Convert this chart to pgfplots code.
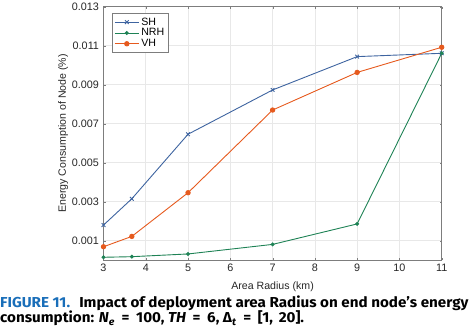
\documentclass[border=0pt]{standalone}
\usepackage{pgfplots}
\pgfplotsset{compat=1.18}
\usepackage{fontspec}
\setmainfont{Liberation Sans}
\newfontfamily\capfont{Fira Sans}
\definecolor{shc}{RGB}{62,100,160}
\definecolor{nrhc}{RGB}{30,130,85}
\definecolor{vhc}{RGB}{230,90,30}
\definecolor{capblue}{RGB}{25,110,185}
\definecolor{framec}{RGB}{125,125,125}
\definecolor{gridc}{RGB}{232,232,232}
\begin{document}
\begin{tikzpicture}
\useasboundingbox (0,0) rectangle (474pt,326pt);
\clip (0,0) rectangle (474pt,326pt);
\begin{axis}[
  at={(103.5pt,65.8pt)}, anchor=south west,
  scale only axis, width=338.2pt, height=253.5pt,
  xmin=3, xmax=11, ymin=0, ymax=0.013,
  xtick={3,4,...,11},
  ytick={0.001,0.003,0.005,0.007,0.009,0.011,0.013},
  scaled y ticks=false,
  yticklabel style={/pgf/number format/fixed,/pgf/number format/precision=3,/pgf/number format/fixed zerofill, xshift=-1pt},
  /pgf/number format/assume math mode=true,
  ticklabel style={font=\fontsize{10.8}{12}\selectfont, text=black!85},
  label style={font=\fontsize{10.6}{12}\selectfont, text=black!85},
  xlabel={Area Radius (km)},
  ylabel={Energy Consumption of Node (\%)},
  xlabel style={yshift=-4pt},
  ylabel style={yshift=-3pt},
  grid=major,
  major grid style={gridc, line width=0.6pt},
  axis line style={framec, line width=1pt},
  tick style={framec},
  major tick length=2pt,
  tick align=inside,
  legend style={at={(0.025,0.974)}, anchor=north west, draw=framec, line width=0.8pt,
    font=\fontsize{10.6}{12}\selectfont, row sep=-2pt, inner sep=2pt},
  legend cell align=left,
  legend image code/.code={\draw[#1] (0pt,0pt) -- (24pt,0pt); \draw[#1, only marks] plot coordinates {(12pt,0pt)};},
]
\addplot[shc, line width=0.9pt, mark=x, mark size=2.6pt] coordinates {
  (3,0.00180) (3.67,0.00315) (5,0.00646) (7,0.00873) (9,0.01044) (11,0.01061)};
\addlegendentry{SH}
\addplot[nrhc, line width=0.9pt, mark=*, mark size=1.5pt] coordinates {
  (3,0.00015) (3.67,0.00018) (5,0.00032) (7,0.00081) (9,0.00186) (11,0.01061)};
\addlegendentry{NRH}
\addplot[vhc, line width=0.9pt, mark=*, mark size=2.2pt] coordinates {
  (3,0.00069) (3.67,0.00122) (5,0.00346) (7,0.00770) (9,0.00963) (11,0.01092)};
\addlegendentry{VH}
\end{axis}
\node[anchor=base west, inner sep=0pt, font=\capfont\bfseries\fontsize{14.4}{16}\selectfont] at (0pt,18.5pt)
  {\scalebox{1.055}[1]{\textcolor{capblue}{FIGURE 11.}\hspace{0.6em}Impact of deployment area Radius on end node’s energy}};
\node[anchor=base west, inner sep=0pt, font=\capfont\bfseries\fontsize{14.4}{16}\selectfont] at (0pt,3pt)
  {\scalebox{1.055}[1]{consumption: \textit{N}\textsubscript{\textit{e}}\hspace{0.2em} = \hspace{0.2em}100, \textit{TH}\hspace{0.2em} = \hspace{0.2em}6, Δ\textsubscript{\textit{t}}\hspace{0.2em} = \hspace{0.2em}[1,\hspace{0.15em} 20].}};
\end{tikzpicture}
\end{document}
